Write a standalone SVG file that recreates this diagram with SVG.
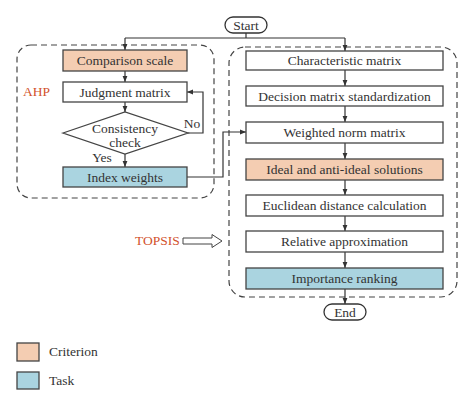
<svg xmlns="http://www.w3.org/2000/svg" width="474" height="406" viewBox="0 0 474 406" font-family="'Liberation Serif', 'Times New Roman', serif">
<defs>
<marker id="ah" viewBox="0 0 8 8" refX="8" refY="4" markerWidth="6" markerHeight="6" orient="auto" markerUnits="userSpaceOnUse">
<path d="M0,0.8 L8,4 L0,7.2 Z" fill="#333"/>
</marker>
<style>
text{font-family:'Liberation Serif','Times New Roman',serif;font-size:13.5px;fill:#333;}
.t{text-anchor:middle;dominant-baseline:central;}
.box{fill:#fff;stroke:#444;stroke-width:1.3;}
.crit{fill:#f4cdb2;stroke:#444;stroke-width:1.3;}
.task{fill:#aad4e0;stroke:#444;stroke-width:1.3;}
.pill{fill:#fff;stroke:#333;stroke-width:1.3;}
.grp{fill:none;stroke:#444;stroke-width:1.2;stroke-dasharray:6,4;}
.ln{fill:none;stroke:#333;stroke-width:1.2;}
.lab{fill:#d2522c;}
</style>
</defs>
<rect width="474" height="406" fill="#fff"/>

<g id="groups">
<rect id="ahp-group" class="grp" x="17" y="45" width="197" height="153" rx="14"/>
<rect id="topsis-group" class="grp" x="229" y="47" width="228" height="250" rx="16"/>
<text class="lab" x="23" y="96">AHP</text>
<text class="lab" x="135" y="245">TOPSIS</text>
<path d="M183,238 H212 V234.5 L222,241 L212,247.5 V244 H183 Z" fill="#fff" stroke="#444" stroke-width="1"/>
</g>

<g id="connectors">
<path class="ln" d="M246,33 V38"/>
<path class="ln" d="M125,38 H345"/>
<path class="ln" d="M125,38 V50" marker-end="url(#ah)"/>
<path class="ln" d="M345,38 V51" marker-end="url(#ah)"/>
<path class="ln" d="M125,71 V82" marker-end="url(#ah)"/>
<path class="ln" d="M125,102 V112" marker-end="url(#ah)"/>
<path class="ln" d="M188,133 H203 V92 H187" marker-end="url(#ah)"/>
<path class="ln" d="M125,154 V167" marker-end="url(#ah)"/>
<path class="ln" d="M187,177 H223 V132 H246" marker-end="url(#ah)"/>
<path class="ln" d="M345,70 V86" marker-end="url(#ah)"/>
<path class="ln" d="M345,106 V122" marker-end="url(#ah)"/>
<path class="ln" d="M345,143 V159" marker-end="url(#ah)"/>
<path class="ln" d="M345,180 V195" marker-end="url(#ah)"/>
<path class="ln" d="M345,216 V231" marker-end="url(#ah)"/>
<path class="ln" d="M345,252 V268" marker-end="url(#ah)"/>
<path class="ln" d="M345,289 V304" marker-end="url(#ah)"/>
</g>

<g id="start">
<rect class="pill" x="225" y="17" width="42" height="16" rx="8"/>
<text class="t" x="246" y="25">Start</text>
</g>
<g id="comparison-scale">
<rect class="crit" x="63" y="50" width="124" height="21"/>
<text class="t" x="125" y="60.5">Comparison scale</text>
</g>
<g id="judgment-matrix">
<rect class="box" x="63" y="82" width="124" height="20"/>
<text class="t" x="125" y="92">Judgment matrix</text>
</g>
<g id="consistency-check">
<polygon class="box" points="63,133 125,112 188,133 125,154"/>
<text class="t" x="125" y="128">Consistency</text>
<text class="t" x="125" y="142">check</text>
<text class="t" x="192" y="123">No</text>
<text class="t" x="102" y="157">Yes</text>
</g>
<g id="index-weights">
<rect class="task" x="63" y="167" width="124" height="20"/>
<text class="t" x="125" y="177">Index weights</text>
</g>
<g id="characteristic-matrix">
<rect class="box" x="246" y="51" width="197" height="19"/>
<text class="t" x="344.5" y="60.5">Characteristic matrix</text>
</g>
<g id="decision-matrix">
<rect class="box" x="246" y="86" width="197" height="20"/>
<text class="t" x="344.5" y="96">Decision matrix standardization</text>
</g>
<g id="weighted-norm">
<rect class="box" x="246" y="122" width="197" height="21"/>
<text class="t" x="344.5" y="132.5">Weighted norm matrix</text>
</g>
<g id="ideal-solutions">
<rect class="crit" x="246" y="159" width="197" height="21"/>
<text class="t" x="344.5" y="169.5">Ideal and anti-ideal solutions</text>
</g>
<g id="euclidean">
<rect class="box" x="246" y="195" width="197" height="21"/>
<text class="t" x="344.5" y="205.5">Euclidean distance calculation</text>
</g>
<g id="relative">
<rect class="box" x="246" y="231" width="197" height="21"/>
<text class="t" x="344.5" y="241.5">Relative approximation</text>
</g>
<g id="importance">
<rect class="task" x="246" y="268" width="197" height="21"/>
<text class="t" x="344.5" y="278.5">Importance ranking</text>
</g>
<g id="end">
<rect class="pill" x="324" y="304" width="42" height="16" rx="8"/>
<text class="t" x="345" y="312">End</text>
</g>

<g id="legend">
<rect class="crit" x="17" y="343" width="22" height="18"/>
<text x="49" y="356">Criterion</text>
<rect class="task" x="17" y="372" width="22" height="17"/>
<text x="49" y="385">Task</text>
</g>
</svg>
